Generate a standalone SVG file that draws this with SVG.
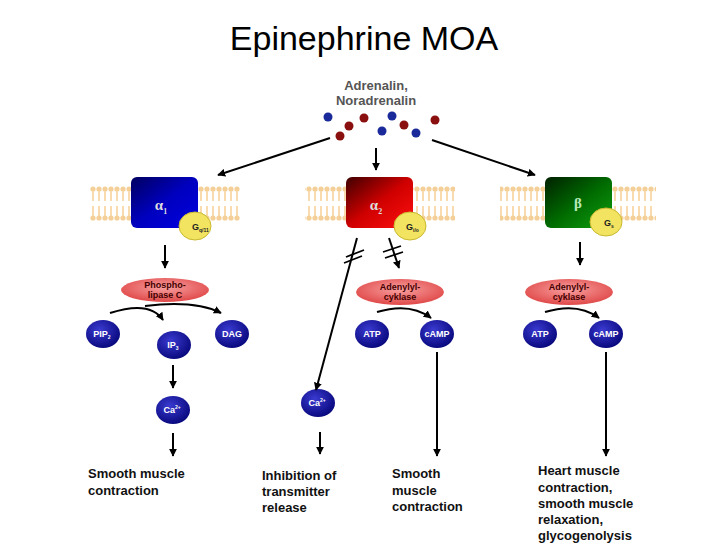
<svg xmlns="http://www.w3.org/2000/svg" width="728" height="546" viewBox="0 0 728 546">
<style>
.t{font-family:"Liberation Sans",Arial,sans-serif;font-weight:bold;font-size:13px;fill:#111}
.c{font-family:"Liberation Sans",Arial,sans-serif;font-weight:bold;font-size:9px;fill:#fff;text-anchor:middle}
.e{font-family:"Liberation Sans",Arial,sans-serif;font-weight:bold;font-size:9px;fill:#400;text-anchor:middle}
.a{stroke:#000;stroke-width:2;fill:none;marker-end:url(#ah)}
.mol{fill:url(#blu)}
.enz{fill:url(#pk)}
.g{fill:#f2e460;stroke:#c9b830}
</style>
<defs>
<marker id="ah" viewBox="0 0 10 10" refX="9" refY="5" markerWidth="4" markerHeight="4" orient="auto"><path d="M0,0L10,5L0,10z" fill="#000"/></marker>
<radialGradient id="blu" cx="0.4" cy="0.35" r="0.7"><stop offset="0" stop-color="#3a3ad0"/><stop offset="1" stop-color="#06067a"/></radialGradient>
<radialGradient id="pk" cx="0.5" cy="0.4" r="0.6"><stop offset="0" stop-color="#f8a0a0"/><stop offset="1" stop-color="#e04848"/></radialGradient>
<linearGradient id="bg1" x1="0" y1="0" x2="1" y2="1"><stop offset="0" stop-color="#000060"/><stop offset="0.5" stop-color="#0000c0"/><stop offset="1" stop-color="#0000e0"/></linearGradient>
<linearGradient id="bg2" x1="0" y1="0" x2="1" y2="1"><stop offset="0" stop-color="#400000"/><stop offset="0.5" stop-color="#d00000"/><stop offset="1" stop-color="#ff1010"/></linearGradient>
<linearGradient id="bg3" x1="0" y1="0" x2="1" y2="1"><stop offset="0" stop-color="#002000"/><stop offset="0.5" stop-color="#006a00"/><stop offset="1" stop-color="#10a010"/></linearGradient>
<pattern id="lip" width="6" height="37" patternUnits="userSpaceOnUse"><circle cx="3" cy="4" r="2.6" fill="#f4cf98"/><rect x="2" y="6" width="2" height="10" fill="#f8dcb0"/><rect x="2" y="21" width="2" height="10" fill="#f8dcb0"/><circle cx="3" cy="33" r="2.6" fill="#f4cf98"/></pattern>
</defs>
<rect width="728" height="546" fill="#fff"/>
<text x="364" y="50" font-family="Liberation Sans,Arial,sans-serif" font-size="34" text-anchor="middle">Epinephrine MOA</text>
<g id="ligand">
<text x="376" y="90" class="t" fill="#555" style="fill:#555" text-anchor="middle">Adrenalin,</text>
<text x="376" y="105" class="t" style="fill:#555" text-anchor="middle">Noradrenalin</text>
<circle cx="328" cy="117" r="4.5" fill="#1a2a9a"/><circle cx="349" cy="126" r="4.5" fill="#8a1010"/><circle cx="364" cy="118" r="4.5" fill="#8a1010"/><circle cx="382" cy="131" r="4.5" fill="#1a2a9a"/><circle cx="340" cy="136" r="4.5" fill="#8a1010"/><circle cx="404" cy="125" r="4.5" fill="#8a1010"/><circle cx="392" cy="116" r="4.5" fill="#1a2a9a"/><circle cx="416" cy="133" r="4.5" fill="#1a2a9a"/><circle cx="435" cy="120" r="4.5" fill="#8a1010"/>
</g>
<g id="membranes">
<rect x="90" y="185" width="150" height="37" fill="url(#lip)"/>
<rect x="305" y="185" width="150" height="37" fill="url(#lip)"/>
<rect x="500" y="185" width="156" height="37" fill="url(#lip)"/>
</g>
<g id="alpha1"><rect x="131" y="177" width="67" height="51" rx="6" fill="url(#bg1)"/><text x="161" y="210" font-family="Liberation Serif,serif" font-weight="bold" font-size="15" fill="#ddd" text-anchor="middle">α<tspan font-size="8" dy="4">1</tspan></text><ellipse cx="195" cy="226" rx="16" ry="14" class="g"/><text x="192" y="230" font-family="Liberation Sans,sans-serif" font-weight="bold" font-size="9" fill="#222">G<tspan font-size="5" dy="2">q/11</tspan></text></g>
<g id="alpha2"><rect x="346" y="177" width="67" height="51" rx="6" fill="url(#bg2)"/><text x="376" y="210" font-family="Liberation Serif,serif" font-weight="bold" font-size="15" fill="#ddd" text-anchor="middle">α<tspan font-size="8" dy="4">2</tspan></text><ellipse cx="410" cy="226" rx="16" ry="14" class="g"/><text x="406" y="230" font-family="Liberation Sans,sans-serif" font-weight="bold" font-size="9" fill="#222">G<tspan font-size="5" dy="2">i/o</tspan></text></g>
<g id="beta"><rect x="545" y="177" width="67" height="51" rx="6" fill="url(#bg3)"/><text x="578" y="208" font-family="Liberation Serif,serif" font-weight="bold" font-size="15" fill="#b8e8b8" text-anchor="middle">β</text><ellipse cx="606" cy="222" rx="16" ry="14" class="g"/><text x="604" y="226" font-family="Liberation Sans,sans-serif" font-weight="bold" font-size="9" fill="#222">G<tspan font-size="5" dy="2">s</tspan></text></g>
<g id="plc"><ellipse cx="165" cy="290" rx="44" ry="12" class="enz"/><text x="165" y="288" class="e">Phospho-</text><text x="165" y="298" class="e">lipase C</text></g>
<g id="ac2"><ellipse cx="400" cy="292" rx="44" ry="13" class="enz"/><text x="400" y="290" class="e">Adenylyl-</text><text x="400" y="300" class="e">cyklase</text></g>
<g id="acb"><ellipse cx="569" cy="292" rx="44" ry="13" class="enz"/><text x="569" y="290" class="e">Adenylyl-</text><text x="569" y="300" class="e">cyklase</text></g>
<g id="pip2"><ellipse cx="103" cy="334" rx="17" ry="14" class="mol"/><text x="102" y="337" class="c">PIP<tspan font-size="5" dy="2">2</tspan></text></g>
<g id="ip3"><ellipse cx="174" cy="345" rx="17" ry="14" class="mol"/><text x="173" y="348" class="c">IP<tspan font-size="5" dy="2">3</tspan></text></g>
<g id="dag"><ellipse cx="232" cy="334" rx="17" ry="14" class="mol"/><text x="232" y="337" class="c">DAG</text></g>
<g id="atp2"><ellipse cx="372" cy="334" rx="17" ry="14" class="mol"/><text x="372" y="337" class="c">ATP</text></g>
<g id="camp2"><ellipse cx="437" cy="334" rx="17" ry="14" class="mol"/><text x="437" y="337" class="c">cAMP</text></g>
<g id="atpb"><ellipse cx="540" cy="334" rx="17" ry="14" class="mol"/><text x="540" y="337" class="c">ATP</text></g>
<g id="campb"><ellipse cx="606" cy="334" rx="17" ry="14" class="mol"/><text x="606" y="337" class="c">cAMP</text></g>
<g id="ca1"><ellipse cx="173" cy="410" rx="17" ry="14" class="mol"/><text x="172" y="413" class="c">Ca<tspan font-size="5" dy="-4">2+</tspan></text></g>
<g id="ca2"><ellipse cx="318" cy="403" rx="17" ry="14" class="mol"/><text x="317" y="406" class="c">Ca<tspan font-size="5" dy="-4">2+</tspan></text></g>
<g id="connectors">
<path class="a" d="M330,138L218,175"/>
<path class="a" d="M376,148L376,170"/>
<path class="a" d="M432,140L535,175"/>
<path class="a" d="M165,245L165,268"/>
<path class="a" d="M580,242L580,265"/>
<path class="a" d="M357,238L316,390"/>
<path d="M346,257L364,250M344,263L362,256" stroke="#000" stroke-width="1.8"/>
<path class="a" d="M389,238L399,268"/>
<path d="M383,252L401,246M385,258L403,252" stroke="#000" stroke-width="1.8"/>
<path class="a" d="M110,313Q150,300 163,320"/>
<path class="a" d="M145,306Q195,300 221,313"/>
<path class="a" d="M377,312Q410,302 431,318"/>
<path class="a" d="M545,312Q578,302 599,318"/>
<path class="a" d="M173,365L173,388"/>
<path class="a" d="M173,433L173,456"/>
<path class="a" d="M320,432L320,454"/>
<path class="a" d="M437,352L437,456"/>
<path class="a" d="M606,352L606,456"/>
</g>
<g id="labels" class="t">
<text x="88" y="478">Smooth muscle</text><text x="88" y="495">contraction</text>
<text x="262" y="480">Inhibition of</text><text x="262" y="496">transmitter</text><text x="262" y="512">release</text>
<text x="392" y="478">Smooth</text><text x="392" y="495">muscle</text><text x="392" y="511">contraction</text>
<text x="538" y="475">Heart muscle</text><text x="538" y="492">contraction,</text><text x="538" y="508">smooth muscle</text><text x="538" y="524">relaxation,</text><text x="538" y="540">glycogenolysis</text>
</g>
</svg>
